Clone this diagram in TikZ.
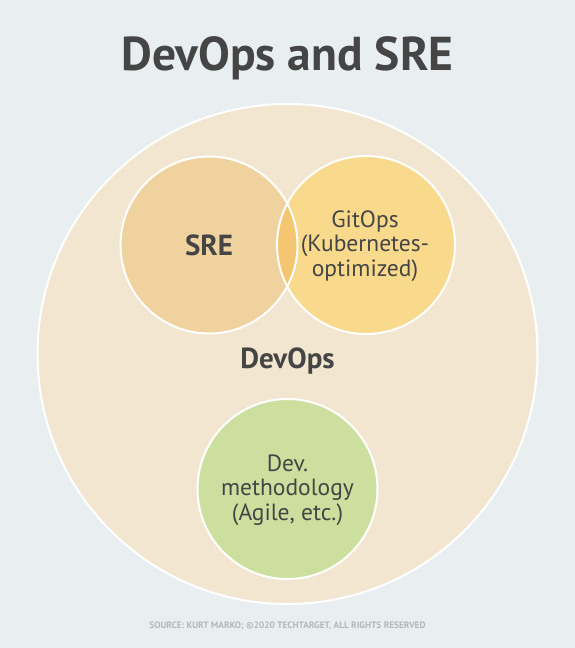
\documentclass[tikz,border=0pt]{standalone}
\usepackage{fontspec}
\setmainfont{PT Sans}
\usepackage{xcolor}
\definecolor{PageBg}{HTML}{E9EEF1}
\definecolor{DevOpsFill}{HTML}{F2E6D0}
\definecolor{SREFill}{HTML}{F0D29E}
\definecolor{GitOpsFill}{HTML}{F9D98C}
\definecolor{LensFill}{HTML}{F4C672}
\definecolor{DevFill}{HTML}{CDDF9F}
\definecolor{TextGray}{HTML}{454545}
\definecolor{SourceGray}{HTML}{B3B7BA}

\begin{document}
\begin{tikzpicture}[x=1pt,y=-1pt,
        every node/.append style={text=TextGray,align=center},
        ring/.style={circle,inner sep=0pt,draw=white,line width=2pt}]
      \tikzstyle{label} = [font=\fontsize{23.5}{24.5}\selectfont]
      \tikzstyle{boldlabel} = [font=\fontsize{29}{30}\selectfont\bfseries]
      % page
      \fill[PageBg] (0,0) rectangle (575,648);
      \useasboundingbox (0,0) rectangle (575,648);
      \node (title) at (287.5,58) {\fontsize{47.5}{50}\selectfont\bfseries DevOps and SRE};
      % circles
      \node (devops) [ring,fill=DevOpsFill,minimum size=500pt] at (287.5,354) {};
      \node (sre) [circle,inner sep=0pt,fill=SREFill,minimum size=177pt] at (209,245) {};
      \node (gitops) [circle,inner sep=0pt,fill=GitOpsFill,minimum size=178pt] at (366,245) {};
      \begin{scope}
        \clip (209,245) circle (88.5);
        \fill[LensFill] (366,245) circle (89);
      \end{scope}
      \node [ring,minimum size=177pt] at (sre) {};
      \node [ring,minimum size=178pt] at (gitops) {};
      \node (dev) [ring,fill=DevFill,minimum size=180pt] at (287.5,489) {};
      % texts
      \node [boldlabel] at (sre) {SRE};
      \node [label] at (365,246) {GitOps\\(Kubernetes-\\optimized)};
      \node [boldlabel] at (287.5,361) {DevOps};
      \node [label] at (287.5,490) {Dev.\\methodology\\(Agile, etc.)};
      \node (source) [text=SourceGray] at (287.5,626) {\fontsize{9.3}{10}\selectfont\bfseries SOURCE: KURT MARKO; ©2020 TECHTARGET, ALL RIGHTS RESERVED};
    \end{tikzpicture}
\end{document}
